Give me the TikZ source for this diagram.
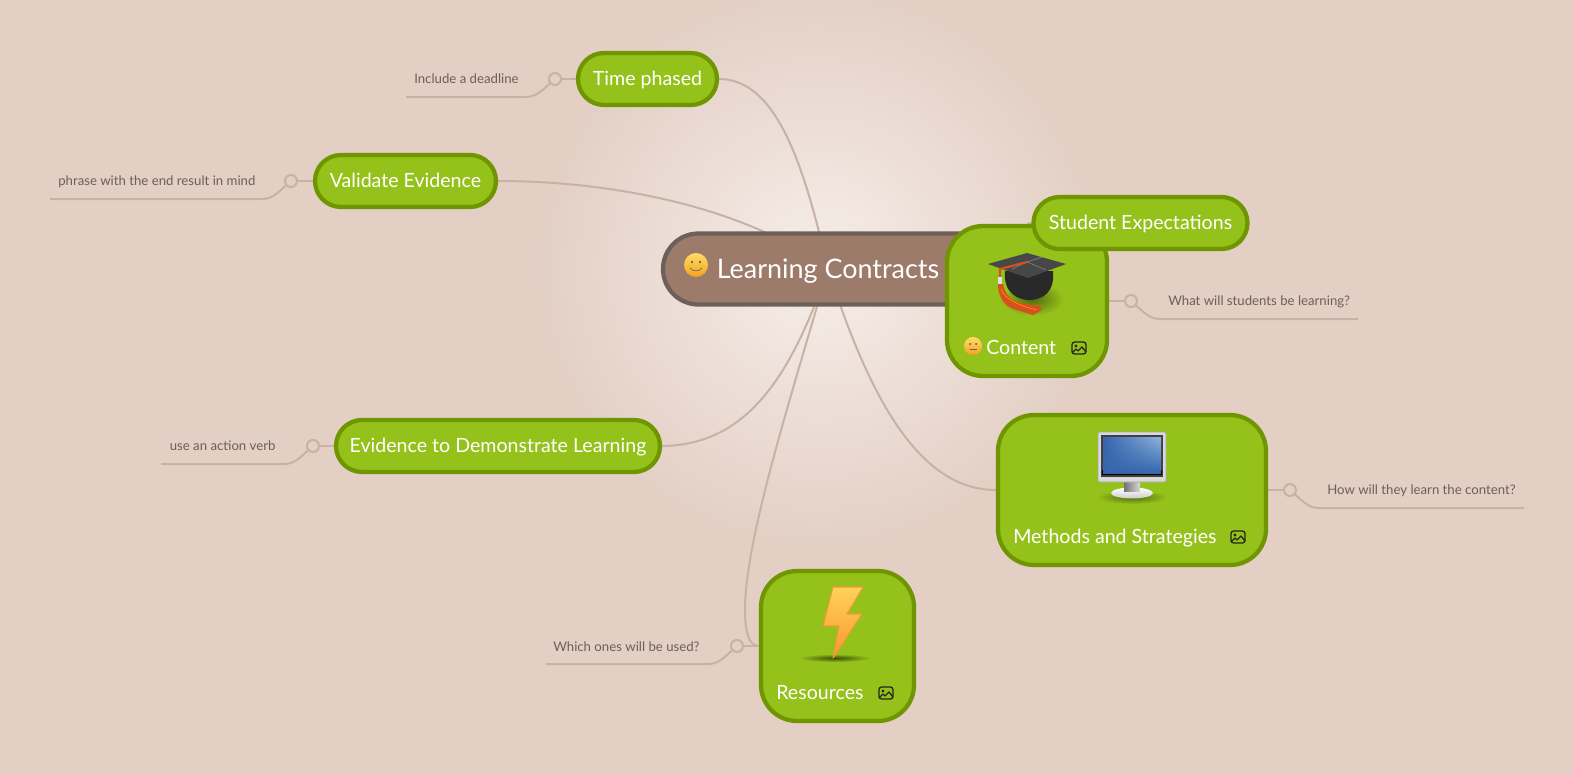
\documentclass[tikz,border=0pt]{standalone}
\usepackage{fontspec}
\setmainfont{Lato}
\usetikzlibrary{backgrounds,shadings}

\definecolor{mapbg}{HTML}{E3CFC4}
\definecolor{mapglow}{HTML}{F6EEEA}
\definecolor{twigline}{HTML}{C8B1A5}
\definecolor{leaffill}{HTML}{95C11B}
\definecolor{leafedge}{HTML}{6F9600}
\definecolor{rootfill}{HTML}{9C7B6B}
\definecolor{rootedge}{HTML}{6E6058}
\definecolor{notetext}{HTML}{6D5F57}
\definecolor{icondark}{HTML}{23281C}
\definecolor{screendark}{HTML}{3565AC}
\definecolor{screenlight}{HTML}{8FB3DC}
\definecolor{facetop}{HTML}{FFDD66}
\definecolor{facebottom}{HTML}{F4A21F}
\definecolor{tasselred}{HTML}{D8501F}
\definecolor{bolttop}{HTML}{FFD258}
\definecolor{boltbottom}{HTML}{F8982C}
\definecolor{boltedge}{HTML}{EE9A3A}

\tikzset{
  x=0.75pt, y=-0.75pt,
  rootnode/.style={draw=rootedge, fill=rootfill, line width=3.2pt, text=white, rounded corners=26.6pt,
    minimum width=247.5pt, minimum height=53.25pt, font=\fontsize{20.2}{24}\selectfont, inner sep=0pt,
    text height=17pt, text depth=3.5pt},
  capsule/.style={draw=leafedge, fill=leaffill, line width=3.2pt, text=white, rounded corners=19.5pt,
    minimum height=39pt, inner sep=0pt, font=\fontsize{14.7}{18}\selectfont, text height=12pt, text depth=3pt},
  picbox/.style={draw=leafedge, fill=leaffill, line width=3.2pt, rounded corners=27pt,
    minimum height=112.5pt, inner sep=0pt},
  boxlabel/.style={text=white, anchor=west, inner sep=0pt, font=\fontsize{14.7}{18}\selectfont,
    text height=12pt, text depth=3pt},
  notelabel/.style={text=notetext, anchor=west, inner sep=0pt, font=\fontsize{9.9}{12}\selectfont,
    text height=8.5pt, text depth=1.75pt},
  knob/.style={circle, draw=twigline, fill=mapbg, line width=1.5pt, minimum size=9pt, inner sep=0pt},
  branch/.style={draw=twigline, line width=1.5pt},
  twig/.style={draw=twigline, line width=1.5pt},
  smiley/.pic={
    \shade [top color=facetop, bottom color=facebottom] (0,0) circle [radius=12];
    \fill [black!70] (-4,-3) circle [radius=1.2] (4,-3) circle [radius=1.2];
    \draw [black!60, line width=0.5pt] (-6,3) .. controls (-2,7) and (2,7) .. (6,3);
  },
  plainface/.pic={
    \shade [top color=facetop, bottom color=facebottom] (0,0) circle [radius=9];
    \fill [black!70] (-3,-2) circle [radius=1] (3,-2) circle [radius=1];
    \draw [black!60, line width=0.5pt] (-3.5,3) -- (3.5,3);
  },
  imagemark/.pic={
    \draw [icondark, line width=1pt, rounded corners=2pt] (-7,-6) rectangle (7,6);
    \fill [icondark] (-3,-2) circle [radius=1.6];
    \draw [icondark, line width=1pt, line join=round] (-7,5) -- (-3,1) -- (-1,3) -- (3,-1) -- (7,4);
  },
  gradcap/.pic={
    \shade [inner color=black!45!leaffill, outer color=leaffill] (4,14) ellipse [x radius=32, y radius=17];
    \fill [black!84] (-23,-14) .. controls (-25,8) and (-10,15) .. (1,15) .. controls (14,15) and (27,8) .. (25,-14) -- cycle;
    \fill [black!72, line join=round] (-40,-21) -- (-1,-32) -- (38,-21) -- (0,-7) -- cycle;
    \draw [black!50, line width=0.5pt] (-16,-16) -- (-1,-23) -- (18,-15) (-1,-23) -- (14,-28);
    \draw [tasselred, line width=1.6pt, line join=round] (-1,-23) -- (-28,-16) -- (-28,-8);
    \fill [black!12] (-30,-8) rectangle (-26,-1);
    \fill [tasselred] (-30,-1) -- (-25,-1) .. controls (-24,6) and (-21,12) .. (-11,17.5) -- (12,21) -- (13.7,25) -- (5.3,30) -- (-14.7,24) .. controls (-24,20) and (-30,12) .. (-30,-1) -- cycle;
    \draw [orange!80!yellow, line width=0.4pt] (-27,4) .. controls (-24,14) and (-8,21) .. (9,25);
  },
  monitorpic/.pic={
    \shade [inner color=black!45!leaffill, outer color=leaffill] (0,32) ellipse [x radius=35, y radius=7];
    \shade [top color=white, bottom color=black!20] (0,28) ellipse [x radius=21, y radius=5.5];
    \shade [left color=black!55, right color=black!15] (-8,17) rectangle (8,26);
    \draw [black!35, fill=black!15, line width=0.5pt, rounded corners=1pt] (-34,-33) rectangle (34,17);
    \fill [black!75] (-31,-30) rectangle (31,12);
    \fill [black] (-30,5) rectangle (30,10);
    \shade [lower left=screendark, lower right=screendark, upper left=screendark, upper right=screenlight] (-29,-28) rectangle (29,8);
  },
  boltpic/.pic={
    \shade [inner color=black!60!leaffill, outer color=leaffill] (-5,33) ellipse [x radius=36, y radius=4];
    \draw [boltedge, line width=0.8pt, line join=round, top color=bolttop, bottom color=boltbottom]
      (-7,-38) -- (23,-38) -- (7,-11) -- (22,-11) -- (-7,33) -- (-1,1) -- (-17,1) -- cycle;
  },
}

\begin{document}
\begin{tikzpicture}
  \useasboundingbox (0,0) rectangle (1573,774);

  \node [rootnode] (root) at (828,269) {Learning Contracts};
  \pic at (696,265) {smiley};

  \node [capsule, minimum width=104.25pt] (timephased) at (647.5,79) {Time phased};
  \node [capsule, minimum width=135.75pt] (validate) at (405.5,181) {Validate Evidence};
  \node [capsule, minimum width=243pt] (evidence) at (498,446) {Evidence to Demonstrate Learning};

  \node [picbox, minimum width=120pt] (content) at (1027,301) {};
  \node [capsule, minimum width=160.5pt] (student) at (1140.5,223) {Student Expectations};
  \node [picbox, minimum width=201pt] (methods) at (1132,490) {};
  \node [picbox, minimum width=114.75pt] (resources) at (837.5,646) {};

  \pic at (1028,285) {gradcap};
  \pic at (973,346) {plainface};
  \node [boxlabel] (contentlabel) at (986,348) {Content};
  \pic at (1079,348) {imagemark};

  \pic at (1132,465) {monitorpic};
  \node [boxlabel] (methodslabel) at (1013,537) {Methods and Strategies};
  \pic at (1238,537) {imagemark};

  \pic at (840,625) {boltpic};
  \node [boxlabel] (resourceslabel) at (776,693.5) {Resources};
  \pic at (886,693) {imagemark};

  % notes
  \node [notelabel] (deadline) at (414,79.5) {Include a deadline};
  \node [notelabel] (endresult) at (58,180.5) {phrase with the end result in mind};
  \node [notelabel] (actionverb) at (169.5,446) {use an action verb};
  \node [notelabel] (whichones) at (553,646.5) {Which ones will be used?};
  \node [notelabel] (learning) at (1168,300.5) {What will students be learning?};
  \node [notelabel] (howlearn) at (1327,489.5) {How will they learn the content?};

  \node [knob] (deadlineknob) at (555,79) {};
  \node [knob] (endresultknob) at (291,181) {};
  \node [knob] (actionverbknob) at (313,446) {};
  \node [knob] (whichonesknob) at (737,646) {};
  \node [knob] (learningknob) at (1131,301) {};
  \node [knob] (howlearnknob) at (1290,490) {};

  \coordinate (deadlinebend) at (525,97);
  \coordinate (deadlineend) at (406,97);
  \coordinate (endresultbend) at (262,199);
  \coordinate (endresultend) at (50,199);
  \coordinate (actionverbbend) at (284,464);
  \coordinate (actionverbend) at (161,464);
  \coordinate (whichonesbend) at (708,664);
  \coordinate (whichonesend) at (546,664);
  \coordinate (learningbend) at (1160,319);
  \coordinate (learningend) at (1358,319);
  \coordinate (howlearnbend) at (1319,508);
  \coordinate (howlearnend) at (1524,508);
  \coordinate (resourcesturn) at (745,610);

  \begin{scope}[on background layer]
    \fill [mapbg] (0,0) rectangle (1573,774);
    \shade [inner color=mapglow, outer color=mapbg] (818,268) circle [radius=280];

    \draw [branch] (timephased.east) .. controls (778,79) and (805,170) .. (root.center);
    \draw [branch] (validate.east) .. controls (620,181) and (750,210) .. (root.center);
    \draw [branch] (evidence.east) .. controls (745,445) and (790,380) .. (root.center);
    \draw [branch] (methods.west) .. controls (920,490) and (870,400) .. (root.center);
    \draw [branch] (resources.west) .. controls (748,646) and (745,630) .. (resourcesturn)
      .. controls (745,540) and (790,400) .. (root.center);
    \draw [branch] (content.north) -- (student.west);

    \draw [twig] (timephased.west) -- (deadlineknob.center);
    \draw [twig] (validate.west) -- (endresultknob.center);
    \draw [twig] (evidence.west) -- (actionverbknob.center);
    \draw [twig] (resources.west) -- (whichonesknob.center);
    \draw [twig] (content.east) -- (learningknob.center);
    \draw [twig] (methods.east) -- (howlearnknob.center);

    \draw [twig] (deadlineknob.center) .. controls (543,89) and (538,97) .. (deadlinebend) -- (deadlineend);
    \draw [twig] (endresultknob.center) .. controls (279,191) and (274,199) .. (endresultbend) -- (endresultend);
    \draw [twig] (actionverbknob.center) .. controls (301,456) and (296,464) .. (actionverbbend) -- (actionverbend);
    \draw [twig] (whichonesknob.center) .. controls (725,656) and (720,664) .. (whichonesbend) -- (whichonesend);
    \draw [twig] (learningknob.center) .. controls (1143,311) and (1148,319) .. (learningbend) -- (learningend);
    \draw [twig] (howlearnknob.center) .. controls (1302,500) and (1307,508) .. (howlearnbend) -- (howlearnend);
  \end{scope}
\end{tikzpicture}
\end{document}
